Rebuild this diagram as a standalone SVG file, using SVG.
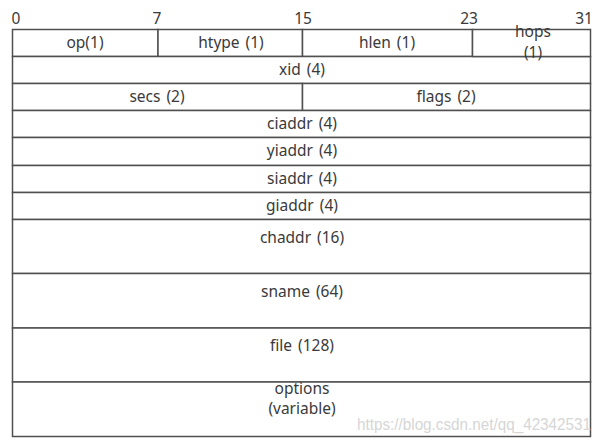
<svg xmlns="http://www.w3.org/2000/svg" width="603" height="443" viewBox="0 0 603 443">
<style>
text{font-family:"Noto Sans","Open Sans","DejaVu Sans",sans-serif;font-size:15.5px;fill:#3a3a3a;text-anchor:middle;word-spacing:2px}
.cell{fill:#fff;stroke:#505050;stroke-width:1.5}
.wm{font-family:"Liberation Sans",Arial,sans-serif;font-size:16px;fill:#d6d6d6;text-anchor:start;word-spacing:0}
</style>
<rect width="603" height="443" fill="#fff"/>
<g id="header">
<text x="16" y="24">0</text>
<text x="157" y="24">7</text>
<text x="303" y="24">15</text>
<text x="469" y="24">23</text>
<text x="584" y="24">31</text>
</g>
<g id="op"><rect class="cell" x="12.5" y="29.5" width="145.5" height="27"/><text x="85" y="48">op(1)</text></g>
<g id="htype"><rect class="cell" x="158" y="29.5" width="144.5" height="27"/><text x="231" y="48">htype (1)</text></g>
<g id="hlen"><rect class="cell" x="302.5" y="29.5" width="170" height="27"/><text x="387" y="48">hlen (1)</text></g>
<g id="xid"><rect class="cell" x="12.5" y="56.5" width="578" height="27"/><text x="302" y="75">xid (4)</text></g>
<g id="hops"><rect class="cell" x="472.5" y="29.5" width="118" height="27"/><text x="533" y="37">hops</text><text x="533" y="58">(1)</text></g>
<g id="secs"><rect class="cell" x="12.5" y="83.5" width="290" height="27"/><text x="157" y="102">secs (2)</text></g>
<g id="flags"><rect class="cell" x="302.5" y="83.5" width="288" height="27"/><text x="446" y="102">flags (2)</text></g>
<g id="ciaddr"><rect class="cell" x="12.5" y="110.5" width="578" height="27"/><text x="302" y="129">ciaddr (4)</text></g>
<g id="yiaddr"><rect class="cell" x="12.5" y="137.5" width="578" height="28"/><text x="302" y="156">yiaddr (4)</text></g>
<g id="siaddr"><rect class="cell" x="12.5" y="165.5" width="578" height="27"/><text x="302" y="184">siaddr (4)</text></g>
<g id="giaddr"><rect class="cell" x="12.5" y="192.5" width="578" height="27"/><text x="302" y="211">giaddr (4)</text></g>
<g id="chaddr"><rect class="cell" x="12.5" y="219.5" width="578" height="54"/><text x="302" y="243">chaddr (16)</text></g>
<g id="sname"><rect class="cell" x="12.5" y="273.5" width="578" height="54.5"/><text x="302" y="297">sname (64)</text></g>
<g id="file"><rect class="cell" x="12.5" y="328" width="578" height="54"/><text x="302" y="351">file (128)</text></g>
<g id="options"><rect class="cell" x="12.5" y="382" width="578" height="54.5"/><text x="302" y="394">options</text><text x="302" y="414">(variable)</text></g>
<g id="connectors"></g>
<text class="wm" x="357" y="430" textLength="234" lengthAdjust="spacingAndGlyphs">https://blog.csdn.net/qq_42342531</text>
</svg>
